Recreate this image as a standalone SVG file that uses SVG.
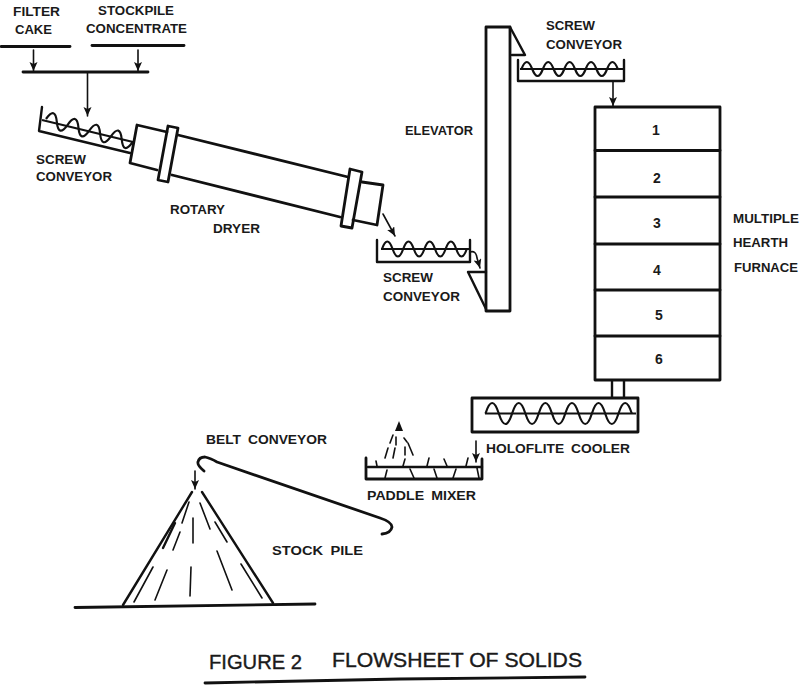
<svg xmlns="http://www.w3.org/2000/svg" width="800" height="685" viewBox="0 0 800 685">
<style>
text{font-family:"Liberation Sans",Arial,sans-serif;font-size:13.5px;font-weight:bold;fill:#1a1a1a;word-spacing:3px}
.l{fill:none;stroke:#111;stroke-width:2.4;stroke-linecap:round;stroke-linejoin:round}
.t{fill:none;stroke:#111;stroke-width:2.8;stroke-linecap:round;stroke-linejoin:round}
.f{fill:none;stroke:#111;stroke-width:1.6;stroke-linecap:round}
.w{fill:none;stroke:#111;stroke-width:2.2;stroke-linejoin:round}
.title{font-size:21px;font-weight:normal;stroke:#1a1a1a;stroke-width:.4;word-spacing:0}
.n{font-size:14px;text-anchor:middle}
</style>
<defs>
<marker id="a" markerWidth="10" markerHeight="10" refX="9" refY="4" orient="auto" markerUnits="userSpaceOnUse"><path d="M0 0L9 4L0 8L2 4Z" fill="#111"/></marker>
</defs>
<rect width="800" height="685" fill="#fff"/>
<g id="connectors">
<path class="f" d="M33.500 50V71" marker-end="url(#a)"/>
<path class="f" d="M138 50V71" marker-end="url(#a)"/>
<path class="f" d="M87.500 73V116" marker-end="url(#a)"/>
<path class="f" d="M383 214L395 236" marker-end="url(#a)"/>
<path class="f" d="M470 252Q476 250 477 258L480 268" marker-end="url(#a)"/>
<path class="f" d="M613 82V106" marker-end="url(#a)"/>
<path class="f" d="M476 441V462" marker-end="url(#a)"/>
<path class="f" d="M195 471V489" marker-end="url(#a)"/>
</g>
<g id="feed-filter-cake"><text x="13" y="16" textLength="47" lengthAdjust="spacingAndGlyphs">FILTER</text><text x="15" y="34" textLength="37" lengthAdjust="spacingAndGlyphs">CAKE</text><path class="t" d="M1 46.500H70"/></g>
<g id="feed-stockpile"><text x="98" y="15" textLength="76" lengthAdjust="spacingAndGlyphs">STOCKPILE</text><text x="86" y="33" textLength="101" lengthAdjust="spacingAndGlyphs">CONCENTRATE</text><path class="t" d="M92 45.500H184"/></g>
<g id="collector"><path class="t" d="M23 72H148"/></g>
<g id="screw-conveyor-1">
<path class="l" d="M42 107L39 131L130 153"/>
<path class="w" d="M42 120L133 142"/>
<path class="w" transform="translate(46 119) rotate(15)" d="M0 0q5.600 -15 11.200 0t11.200 0t11.200 0t11.200 0t11.200 0t11.200 0t11.200 0t11.200 0"/>
<text x="36" y="164" textLength="50" lengthAdjust="spacingAndGlyphs">SCREW</text><text x="36" y="181" textLength="76" lengthAdjust="spacingAndGlyphs">CONVEYOR</text>
</g>
<g id="rotary-dryer">
<path class="t" d="M167 132L137 125L130 163L157 170"/>
<path class="t" d="M168 126L178 128L168 182L158 180Z"/>
<path class="t" d="M178 135L348 177M172 175L340 217"/>
<path class="t" d="M350 169L362 172L352 228L341 226Z"/>
<path class="t" d="M362 182L383 185L377 225L353 220"/>
<text x="170" y="214" textLength="55" lengthAdjust="spacingAndGlyphs">ROTARY</text><text x="213" y="233" textLength="47" lengthAdjust="spacingAndGlyphs">DRYER</text>
</g>
<g id="screw-conveyor-2">
<path class="l" d="M377 240V262H470V240"/>
<path class="w" d="M381 249H470"/>
<path class="w" d="M382 249q5.300 -15 10.600 0t10.600 0t10.600 0t10.600 0t10.600 0t10.600 0t10.600 0t10.600 0"/>
<text x="383" y="282" textLength="50" lengthAdjust="spacingAndGlyphs">SCREW</text><text x="383" y="301" textLength="77" lengthAdjust="spacingAndGlyphs">CONVEYOR</text>
</g>
<g id="elevator">
<path class="t" d="M486 27H510V311H486Z"/>
<path class="l" d="M510 27L525 55H512"/>
<path class="l" d="M486 272H468L486 309"/>
<text x="405" y="135" textLength="68" lengthAdjust="spacingAndGlyphs">ELEVATOR</text>
</g>
<g id="screw-conveyor-3">
<path class="l" d="M518 60V81H624V60"/>
<path class="w" d="M520 69H623"/>
<path class="w" d="M521.500 69q5.300 -14 10.700 0t10.700 0t10.700 0t10.700 0t10.700 0t10.700 0t10.700 0t10.700 0t10.700 0"/>
<text x="546" y="30" textLength="49" lengthAdjust="spacingAndGlyphs">SCREW</text><text x="546" y="49" textLength="76" lengthAdjust="spacingAndGlyphs">CONVEYOR</text>
</g>
<g id="furnace">
<path class="t" d="M595 107H720V380H595Z"/>
<path class="t" d="M595 150.500H720M595 197H720M595 244H720M595 290H720M595 336H720"/>
<text class="n" x="656" y="135">1</text><text class="n" x="657" y="183">2</text><text class="n" x="657" y="228">3</text><text class="n" x="657" y="275">4</text><text class="n" x="659" y="320">5</text><text class="n" x="659" y="364">6</text>
<text x="733" y="223" textLength="66" lengthAdjust="spacingAndGlyphs">MULTIPLE</text><text x="733" y="247" textLength="55" lengthAdjust="spacingAndGlyphs">HEARTH</text><text x="734" y="272" textLength="64" lengthAdjust="spacingAndGlyphs">FURNACE</text>
</g>
<g id="holoflite-cooler">
<path class="l" d="M612 381V397M624 381V397"/>
<path class="t" d="M472 398H638V432H472Z"/>
<path class="w" d="M485 413.500H636"/>
<path class="w" d="M485.500 413.500q6.650 -21 13.300 0t13.300 0t13.300 0t13.300 0t13.300 0t13.300 0t13.300 0t13.300 0t13.300 0t13.300 0t13.300 0"/>
<text x="486" y="453" textLength="144" lengthAdjust="spacingAndGlyphs">HOLOFLITE COOLER</text>
</g>
<g id="paddle-mixer">
<path class="t" d="M366 458V479H482V459"/>
<path class="l" d="M368 467H482"/>
<path class="f" d="M387 470L385 478M410 469L414 478M434 469L437 478M456 469L453 478M477 468L479 478M377 466L376 461M403 466L405 459M427 466L429 458M447 466L444 459M466 466L468 458"/>
<path d="M399 421L403 431H395Z" fill="#111"/>
<path class="f" d="M385 458L388 448M390 443L393 435M393 458L395 448M396 445V437M405 455V447M404 438L407 442M413 455L408 443"/>
<text x="367" y="500" textLength="109" lengthAdjust="spacingAndGlyphs">PADDLE MIXER</text>
</g>
<g id="stock-pile">
<path class="l" d="M123 605L192 492M202 492L273 603"/>
<path class="t" d="M75 607.500L315 604"/>
<path class="f" d="M189 502L182 523M180 532L173 550M193 518V543M200 503L210 529M215 522L227 542M217 551L232 590M241 564L262 598M153 567L134 602M167 570L155 600M191 567L190 596"/>
<path class="l" d="M175 523L163 548"/>
<text x="272" y="555" textLength="91" lengthAdjust="spacingAndGlyphs">STOCK PILE</text>
</g>
<g id="belt-conveyor">
<path class="t" d="M204 471Q197 465 198 462Q199 457 205 457Q210 458 217 462L380 518Q392 522 392 527Q391 533 382 534"/>
<text x="206" y="444" textLength="121" lengthAdjust="spacingAndGlyphs">BELT CONVEYOR</text>
</g>
<g id="caption">
<text class="title" x="209" y="669" textLength="93" lengthAdjust="spacingAndGlyphs">FIGURE 2</text>
<text class="title" x="332" y="667" textLength="250" lengthAdjust="spacingAndGlyphs">FLOWSHEET OF SOLIDS</text>
<path class="t" d="M205 683L400 679L585 677"/>
</g>
</svg>
